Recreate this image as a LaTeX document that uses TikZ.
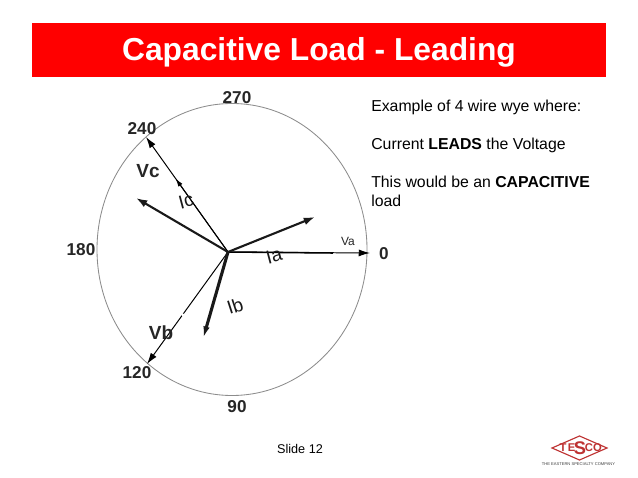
\documentclass[tikz,border=0pt]{standalone}
\usepackage{xcolor}
\usepackage{fontspec}
\setmainfont{Liberation Sans}
\usepackage{tikz}
\usetikzlibrary{shapes,arrows.meta,positioning,calc}
\definecolor{tescored}{RGB}{190,50,50}
\tikzset{
  degree/.style={font=\bfseries\fontsize{12.2}{14}\selectfont, text=black!85, inner sep=0pt},
  phase/.style={font=\bfseries\fontsize{13.5}{15}\selectfont, text=black!85, inner sep=0pt},
  amps/.style={font=\fontsize{13.5}{15}\selectfont, text=black!90, inner sep=0pt},
  body/.style={anchor=base west, inner sep=0pt, font=\fontsize{11.25}{12}\selectfont},
  logoletter/.style={text=tescored, font=\bfseries\fontsize{8}{9}\selectfont, inner sep=0pt},
  voltage/.style={-{Latex[length=8pt,width=5pt]}, black, line width=0.7pt},
  current/.style={-{Latex[length=8pt,width=5.5pt]}, line width=1.5pt, black!90}
}

\begin{document}
\begin{tikzpicture}[x=0.025cm, y=-0.025cm]
\useasboundingbox (0,0) rectangle (638,478);
\fill[white] (0,0) rectangle (638,478);

% title bar
\fill[red] (32,23) rectangle (606,77);
\node[text=white, font=\bfseries\fontsize{22.6}{24}\selectfont] (title) at (319,52) {Capacitive Load - Leading};

% text
\node[body] (line1) at (371,112) {Example of 4 wire wye where:};
\node[body] (line2) at (371,150) {Current \textbf{LEADS} the Voltage};
\node[body] (line3) at (371,188) {This would be an \textbf{CAPACITIVE}};
\node[body] (line4) at (371,207) {load};

% circle
\draw[black!45, line width=0.6pt] (232,249.5) ellipse (135 and 146);

% tips
\coordinate (hub) at (228,252);
\coordinate (Vatip) at (370,253);
\coordinate (Vbtip) at (147,364);
\coordinate (Vctip) at (146,137);
\coordinate (Iatip) at (315,217);
\coordinate (Ibtip) at (203,339);
\coordinate (Ictip) at (136,198);
\coordinate (Iaend) at (333,253);

% voltages
\draw[voltage] (hub) -- (Vatip);
\draw[voltage] (hub) -- (Vbtip);
\draw[voltage] (hub) -- (Vctip);
\draw[voltage, -{Latex[length=6pt,width=3.5pt]}] (hub) -- ($(hub)!0.64!(Vctip)$);
\draw[line width=1.1pt] (hub) -- (Iaend);
\fill[white] ($(hub)!0.56!(Vbtip)$) circle (1.6);

% currents
\draw[current] (hub) -- (Iatip);
\draw[current, line width=2.2pt, -{Latex[length=9pt,width=4.5pt]}] (hub) -- (Ibtip);
\draw[current] (hub) -- (Ictip);

% degrees
\node[degree] (d270) at (237,98) {270};
\node[degree] (d240) at (142,129) {240};
\node[degree] (d180) at (81,250) {180};
\node[degree] (d120) at (137,373) {120};
\node[degree] (d90) at (237,407) {90};
\node[degree] (d0) at (384,254) {0};

% phase labels
\node[font=\fontsize{8.5}{10}\selectfont, text=black!85, inner sep=0pt] (Va) at (348,241) {Va};
\node[phase] (Vb) at (161,333) {Vb};
\node[phase] (Vc) at (148,171) {Vc};
\node[amps, rotate=15] (Ia) at (274,256) {Ia};
\node[amps, rotate=18] (Ib) at (235,306) {Ib};
\node[amps, rotate=15] (Ic) at (186,201) {Ic};

% footer
\node[font=\fontsize{9}{11}\selectfont] (slide) at (300,449) {Slide 12};

% logo
\draw[tescored, line width=0.8pt] (552,448) -- (579.5,436) -- (607,448) -- (579.5,460) -- cycle;
\node[logoletter] (logoT) at (563,447.5) {T};
\node[logoletter] (logoE) at (571.5,447.5) {E};
\node[logoletter, font=\bfseries\fontsize{13}{14}\selectfont] (logoS) at (580,448) {S};
\node[logoletter] (logoC) at (589,447.5) {C};
\node[logoletter] (logoO) at (597.5,447.5) {O};
\node[font=\fontsize{2.9}{3}\selectfont, text=black!75, inner sep=0pt] (logotext) at (578.5,464.5) {THE EASTERN SPECIALTY COMPANY};
\end{tikzpicture}
\end{document}
